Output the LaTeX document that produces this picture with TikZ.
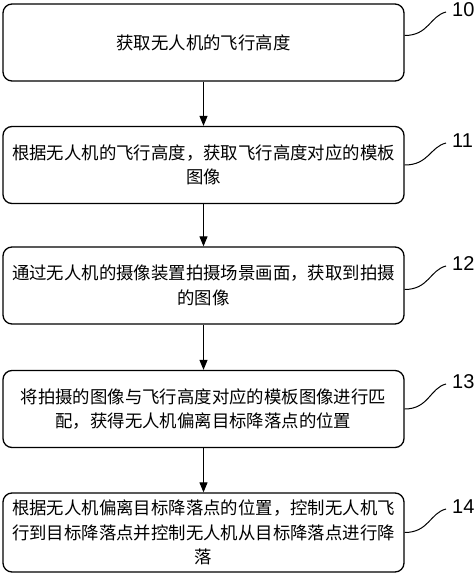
\documentclass[tikz,border=0pt]{standalone}
\usepackage{fontspec}
\setmainfont{Liberation Sans}
\newfontfamily\cjk{Noto Sans CJK SC}
\usepackage{tikz}
\usetikzlibrary{arrows.meta}

\begin{document}
\begin{tikzpicture}[x=1pt,y=-1pt,stepbox/.style={shape=rectangle,rounded corners=9pt,draw=black,line width=1.3pt,minimum width=401pt,minimum height=77pt,text width=392pt,align=center,font=\cjk\fontsize{17.4}{24.5}\selectfont,inner sep=0pt},stepno/.style={anchor=west,font=\fontsize{20}{22}\selectfont,inner sep=1pt},flow/.style={line width=1.1pt,-{Triangle[length=10pt,width=8pt]}},lead/.style={line width=1pt}]
\def\xb{203.5};
\def\xn{451};

\useasboundingbox (0,0) rectangle (474,573);

\node[stepbox] (S10) at (\xb,42.5) {获取无人机的飞行高度};
\node[stepbox] (S11) at (\xb,165) {根据无人机的飞行高度，获取飞行高度对应的模板\\图像};
\node[stepbox] (S12) at (\xb,285.5) {通过无人机的摄像装置拍摄场景画面，获取到拍摄\\的图像};
\node[stepbox] (S13) at (\xb,409) {将拍摄的图像与飞行高度对应的模板图像进行匹\\配，获得无人机偏离目标降落点的位置};
\node[stepbox,minimum height=79pt] (S14) at (\xb,532.5) {根据无人机偏离目标降落点的位置，控制无人机飞\\行到目标降落点并控制无人机从目标降落点进行降\\落};

\node[stepno] (N10) at (\xn,10) {10};
\node[stepno] (N11) at (\xn,141) {11};
\node[stepno] (N12) at (\xn,264) {12};
\node[stepno] (N13) at (\xn,382) {13};
\node[stepno] (N14) at (\xn,507) {14};

\draw[flow] (S10) -- (S11);
\draw[flow] (S11) -- (S12);
\draw[flow] (S12) -- (S13);
\draw[flow] (S13) -- (S14);

\draw[lead] ([yshift=7pt]S10.east) .. controls +(24,0) and +(-16,4) .. ([xshift=-5pt,yshift=-2pt]N10.west);
\draw[lead] (S11.east) .. controls +(24,0) and +(-16,4) .. ([xshift=-5pt,yshift=-2pt]N11.west);
\draw[lead] ([yshift=-4pt]S12.east) .. controls +(24,0) and +(-16,4) .. ([xshift=-5pt,yshift=-2pt]N12.west);
\draw[lead] (S13.east) .. controls +(24,0) and +(-16,4) .. ([xshift=-5pt,yshift=-2pt]N13.west);
\draw[lead] (S14.east) .. controls +(24,0) and +(-16,4) .. ([xshift=-5pt,yshift=-2pt]N14.west);

\end{tikzpicture}
\end{document}
